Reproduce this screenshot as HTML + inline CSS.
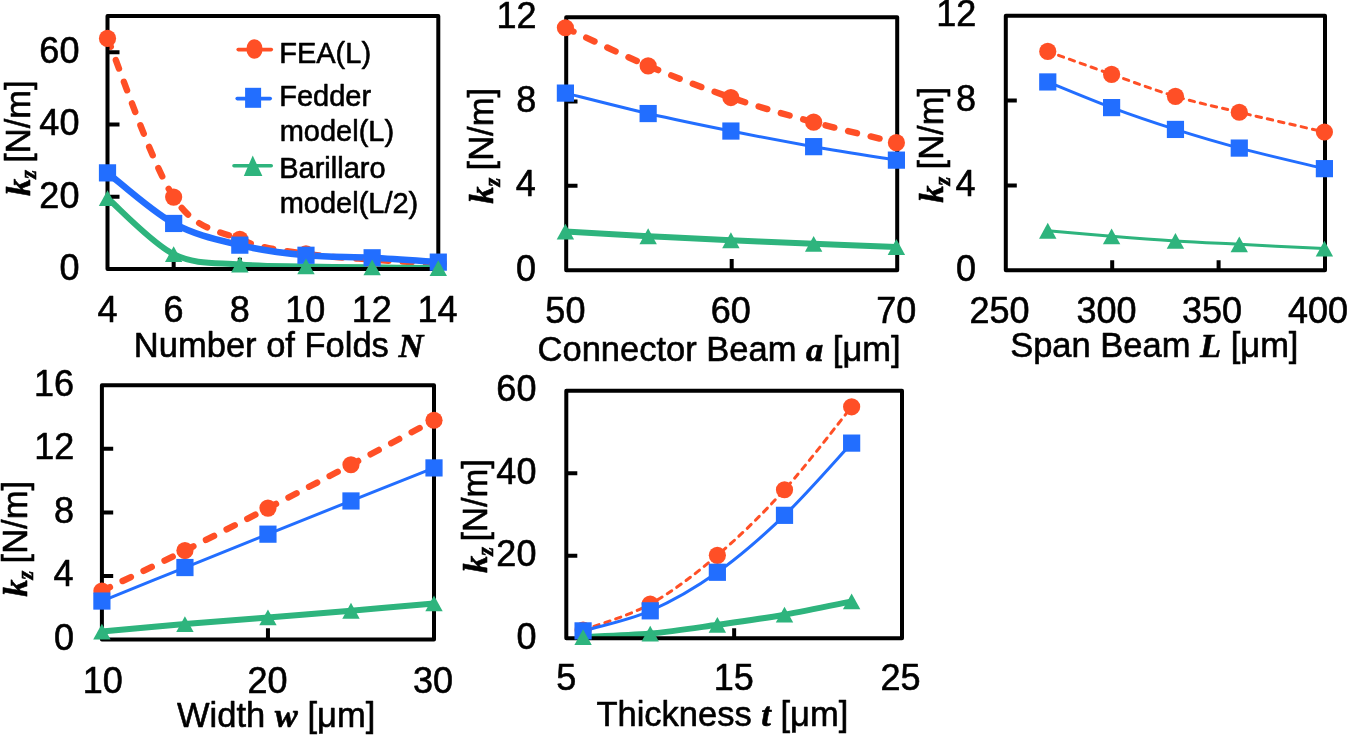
<!DOCTYPE html>
<html><head><meta charset="utf-8"><title>Figure</title>
<style>html,body{margin:0;padding:0;background:#fff;}body{width:1347px;height:736px;overflow:hidden;}svg{display:block;}</style>
</head><body>
<svg width="1347" height="736" viewBox="0 0 1347 736">
<style>text{stroke:#000;stroke-width:0.6px;stroke-linejoin:round;}</style>
<defs><filter id="soft" x="0" y="0" width="1347" height="736" filterUnits="userSpaceOnUse"><feGaussianBlur stdDeviation="0.5"/></filter></defs>
<rect width="1347" height="736" fill="#fff"/>
<g filter="url(#soft)">
<path d="M107.5,38.41 C118.53,64.85 151.61,163.58 173.66,197.08 C195.71,230.57 217.77,229.91 239.82,239.36 C261.87,248.82 283.93,250.45 305.98,253.82 C328.03,257.19 350.09,257.98 372.14,259.6 C394.19,261.23 427.27,262.92 438.3,263.58" stroke="#FF5026" stroke-width="6.4" fill="none" stroke-linecap="round" stroke-linejoin="round" stroke-dasharray="9.1 14.1"/>
<path d="M107.5,172.86 C118.53,181.29 151.61,211.41 173.66,223.46 C195.71,235.51 217.77,239.84 239.82,245.15 C261.87,250.45 283.93,253.16 305.98,255.27 C328.03,257.37 350.09,256.65 372.14,257.8 C394.19,258.94 427.27,261.41 438.3,262.13" stroke="#236EFF" stroke-width="6.5" fill="none" stroke-linecap="round" stroke-linejoin="round"/>
<path d="M107.5,198.16 C118.53,207.5 151.61,243.13 173.66,254.18 C195.71,265.24 217.77,262.43 239.82,264.48 C261.87,266.53 283.93,265.99 305.98,266.47 C328.03,266.95 350.09,267.1 372.14,267.37 C394.19,267.64 427.27,267.98 438.3,268.1" stroke="#2DB47D" stroke-width="6" fill="none" stroke-linecap="round" stroke-linejoin="round"/>
<path d="M107.5,196.71 H119.5 M107.5,124.43 H119.5 M107.5,52.14 H119.5 M173.66,269 V257.7 M239.82,269 V257.7 M305.98,269 V257.7 M372.14,269 V257.7" stroke="#000" stroke-width="4.0" fill="none"/>
<rect x="107.5" y="16" width="330.8" height="253" fill="none" stroke="#000" stroke-width="4.0" stroke-linejoin="round"/>
<circle cx="107.5" cy="38.41" r="8.6" fill="#FF5026"/>
<circle cx="173.66" cy="197.08" r="8.6" fill="#FF5026"/>
<circle cx="239.82" cy="239.36" r="8.6" fill="#FF5026"/>
<circle cx="305.98" cy="253.82" r="8.6" fill="#FF5026"/>
<circle cx="372.14" cy="259.6" r="8.6" fill="#FF5026"/>
<circle cx="438.3" cy="263.58" r="8.6" fill="#FF5026"/>
<rect x="98.9" y="164.26" width="17.2" height="17.2" fill="#236EFF"/>
<rect x="165.06" y="214.86" width="17.2" height="17.2" fill="#236EFF"/>
<rect x="231.22" y="236.55" width="17.2" height="17.2" fill="#236EFF"/>
<rect x="297.38" y="246.67" width="17.2" height="17.2" fill="#236EFF"/>
<rect x="363.54" y="249.2" width="17.2" height="17.2" fill="#236EFF"/>
<rect x="429.7" y="253.53" width="17.2" height="17.2" fill="#236EFF"/>
<path d="M107.5,190.26 L116.2,206.06 L98.8,206.06 Z" fill="#2DB47D"/>
<path d="M173.66,246.28 L182.36,262.08 L164.96,262.08 Z" fill="#2DB47D"/>
<path d="M239.82,256.58 L248.52,272.38 L231.12,272.38 Z" fill="#2DB47D"/>
<path d="M305.98,258.57 L314.68,274.37 L297.28,274.37 Z" fill="#2DB47D"/>
<path d="M372.14,259.47 L380.84,275.27 L363.44,275.27 Z" fill="#2DB47D"/>
<path d="M438.3,260.2 L447,276 L429.6,276 Z" fill="#2DB47D"/>
<text x="59.38" y="279.8" font-size="36" font-family="'Liberation Sans', Arial, sans-serif" text-anchor="start">0</text>
<text x="39.36" y="207.51" font-size="36" font-family="'Liberation Sans', Arial, sans-serif" text-anchor="start">20</text>
<text x="39.36" y="135.23" font-size="36" font-family="'Liberation Sans', Arial, sans-serif" text-anchor="start">40</text>
<text x="39.36" y="62.94" font-size="36" font-family="'Liberation Sans', Arial, sans-serif" text-anchor="start">60</text>
<text x="97.6" y="321.7" font-size="36" font-family="'Liberation Sans', Arial, sans-serif" text-anchor="start">4</text>
<text x="163.53" y="321.7" font-size="36" font-family="'Liberation Sans', Arial, sans-serif" text-anchor="start">6</text>
<text x="229.81" y="321.7" font-size="36" font-family="'Liberation Sans', Arial, sans-serif" text-anchor="start">8</text>
<text x="285.29" y="321.7" font-size="36" font-family="'Liberation Sans', Arial, sans-serif" text-anchor="start">10</text>
<text x="351.65" y="321.7" font-size="36" font-family="'Liberation Sans', Arial, sans-serif" text-anchor="start">12</text>
<text x="417.43" y="321.7" font-size="36" font-family="'Liberation Sans', Arial, sans-serif" text-anchor="start">14</text>
<text x="133.87" y="357.2" font-size="34.5" font-family="'Liberation Sans', Arial, sans-serif">Number of Folds <tspan font-family="'Liberation Serif', 'Times New Roman', serif" font-weight="bold" font-style="italic">N</tspan></text>
<text transform="translate(29.6,196.07) rotate(-90)" font-size="34.5" font-family="'Liberation Sans', Arial, sans-serif"><tspan font-family="'Liberation Serif', 'Times New Roman', serif" font-weight="bold" font-style="italic">k</tspan><tspan font-family="'Liberation Serif', 'Times New Roman', serif" font-style="italic" font-weight="bold" font-size="22.5" dy="6.8">z</tspan><tspan dx="-2.3" dy="-6.8"> [N/m]</tspan></text>
<path d="M238.2,49.6 H271.3" stroke="#FF5026" stroke-width="3.6" stroke-linecap="round"/>
<ellipse cx="254.5" cy="49" rx="8.1" ry="9.8" fill="#FF5026"/>
<path d="M237.2,98.6 H270.2" stroke="#236EFF" stroke-width="3.6" stroke-linecap="round"/>
<rect x="245.1" y="87.8" width="16" height="20" fill="#236EFF"/>
<path d="M234,165.7 H271.2" stroke="#2DB47D" stroke-width="3.6" stroke-linecap="round"/>
<path d="M252.7,155.6 L262.4,175.9 L243.8,175.9 Z" fill="#2DB47D"/>
<text x="279.22" y="62.6" font-size="29" font-family="'Liberation Sans', Arial, sans-serif" text-anchor="start">FEA(L)</text>
<text x="279.22" y="105.8" font-size="29" font-family="'Liberation Sans', Arial, sans-serif" text-anchor="start">Fedder</text>
<text x="279.67" y="140.6" font-size="29" font-family="'Liberation Sans', Arial, sans-serif" text-anchor="start">model(L)</text>
<text x="279.22" y="178.3" font-size="29" font-family="'Liberation Sans', Arial, sans-serif" text-anchor="start">Barillaro</text>
<text x="279.67" y="213.4" font-size="29" font-family="'Liberation Sans', Arial, sans-serif" text-anchor="start">model(L/2)</text>
<path d="M565.4,27.74 C579.19,34.1 620.57,54.27 648.15,65.9 C675.73,77.53 703.32,88.15 730.9,97.53 C758.48,106.91 786.07,114.68 813.65,122.19 C841.23,129.71 882.61,139.24 896.4,142.65" stroke="#FF5026" stroke-width="6.4" fill="none" stroke-linecap="round" stroke-linejoin="round" stroke-dasharray="9.1 14.1"/>
<path d="M565.4,93.1 C579.19,96.51 620.57,107.23 648.15,113.55 C675.73,119.88 703.32,125.53 730.9,131.05 C758.48,136.57 786.07,141.8 813.65,146.65 C841.23,151.5 882.61,157.9 896.4,160.14" stroke="#236EFF" stroke-width="3" fill="none" stroke-linecap="round" stroke-linejoin="round"/>
<path d="M565.4,231.62 C579.19,232.39 620.57,234.82 648.15,236.26 C675.73,237.7 703.32,239 730.9,240.26 C758.48,241.53 786.07,242.72 813.65,243.85 C841.23,244.97 882.61,246.48 896.4,247.01" stroke="#2DB47D" stroke-width="6" fill="none" stroke-linecap="round" stroke-linejoin="round"/>
<path d="M566.2,185.87 H577.5 M566.2,101.53 H577.5 M731.7,270.2 V258.9" stroke="#000" stroke-width="4.0" fill="none"/>
<rect x="566.2" y="17.2" width="331" height="253" fill="none" stroke="#000" stroke-width="4.0" stroke-linejoin="round"/>
<circle cx="565.4" cy="27.74" r="8.6" fill="#FF5026"/>
<circle cx="648.15" cy="65.9" r="8.6" fill="#FF5026"/>
<circle cx="730.9" cy="97.53" r="8.6" fill="#FF5026"/>
<circle cx="813.65" cy="122.19" r="8.6" fill="#FF5026"/>
<circle cx="896.4" cy="142.65" r="8.6" fill="#FF5026"/>
<rect x="556.8" y="84.5" width="17.2" height="17.2" fill="#236EFF"/>
<rect x="639.55" y="104.95" width="17.2" height="17.2" fill="#236EFF"/>
<rect x="722.3" y="122.45" width="17.2" height="17.2" fill="#236EFF"/>
<rect x="805.05" y="138.05" width="17.2" height="17.2" fill="#236EFF"/>
<rect x="887.8" y="151.54" width="17.2" height="17.2" fill="#236EFF"/>
<path d="M565.4,223.72 L574.1,239.52 L556.7,239.52 Z" fill="#2DB47D"/>
<path d="M648.15,228.36 L656.85,244.16 L639.45,244.16 Z" fill="#2DB47D"/>
<path d="M730.9,232.36 L739.6,248.16 L722.2,248.16 Z" fill="#2DB47D"/>
<path d="M813.65,235.95 L822.35,251.75 L804.95,251.75 Z" fill="#2DB47D"/>
<path d="M896.4,239.11 L905.1,254.91 L887.7,254.91 Z" fill="#2DB47D"/>
<text x="516.08" y="280.8" font-size="36" font-family="'Liberation Sans', Arial, sans-serif" text-anchor="start">0</text>
<text x="515.73" y="196.47" font-size="36" font-family="'Liberation Sans', Arial, sans-serif" text-anchor="start">4</text>
<text x="516.24" y="112.13" font-size="36" font-family="'Liberation Sans', Arial, sans-serif" text-anchor="start">8</text>
<text x="496.47" y="27.8" font-size="36" font-family="'Liberation Sans', Arial, sans-serif" text-anchor="start">12</text>
<text x="545.36" y="323.1" font-size="36" font-family="'Liberation Sans', Arial, sans-serif" text-anchor="start">50</text>
<text x="710.67" y="323.1" font-size="36" font-family="'Liberation Sans', Arial, sans-serif" text-anchor="start">60</text>
<text x="876.16" y="323.1" font-size="36" font-family="'Liberation Sans', Arial, sans-serif" text-anchor="start">70</text>
<text x="537.55" y="361" font-size="34.5" font-family="'Liberation Sans', Arial, sans-serif">Connector Beam <tspan font-family="'Liberation Serif', 'Times New Roman', serif" font-weight="bold" font-style="italic">a</tspan> [μm]</text>
<text transform="translate(492.8,203.67) rotate(-90)" font-size="34.5" font-family="'Liberation Sans', Arial, sans-serif"><tspan font-family="'Liberation Serif', 'Times New Roman', serif" font-weight="bold" font-style="italic">k</tspan><tspan font-family="'Liberation Serif', 'Times New Roman', serif" font-style="italic" font-weight="bold" font-size="22.5" dy="6.8">z</tspan><tspan dx="-2.3" dy="-6.8"> [N/m]</tspan></text>
<path d="M1047.76,51.42 C1058.4,55.23 1090.32,66.82 1111.6,74.31 C1132.88,81.8 1154.16,90.04 1175.44,96.36 C1196.72,102.68 1214.45,106.32 1239.28,112.26 C1264.11,118.2 1310.21,128.69 1324.4,131.98" stroke="#FF5026" stroke-width="3" fill="none" stroke-linecap="round" stroke-linejoin="round" stroke-dasharray="5.5 6.0"/>
<path d="M1047.76,81.94 C1058.4,86.22 1090.32,99.68 1111.6,107.6 C1132.88,115.51 1154.16,122.68 1175.44,129.43 C1196.72,136.18 1214.45,141.55 1239.28,148.09 C1264.11,154.62 1310.21,165.22 1324.4,168.65" stroke="#236EFF" stroke-width="3" fill="none" stroke-linecap="round" stroke-linejoin="round"/>
<path d="M1047.76,230.77 C1058.4,231.69 1090.32,234.58 1111.6,236.28 C1132.88,237.98 1154.16,239.6 1175.44,240.94 C1196.72,242.29 1214.45,243.06 1239.28,244.34 C1264.11,245.61 1310.21,247.87 1324.4,248.58" stroke="#2DB47D" stroke-width="3" fill="none" stroke-linecap="round" stroke-linejoin="round"/>
<path d="M1005.8,185.4 H1016.8 M1005.8,100.6 H1016.8 M1112.2,270.2 V260.3 M1218.6,270.2 V260.3" stroke="#000" stroke-width="4.0" fill="none"/>
<rect x="1005.8" y="15.8" width="319.2" height="254.4" fill="none" stroke="#000" stroke-width="4.0" stroke-linejoin="round"/>
<circle cx="1047.76" cy="51.42" r="8.6" fill="#FF5026"/>
<circle cx="1111.6" cy="74.31" r="8.6" fill="#FF5026"/>
<circle cx="1175.44" cy="96.36" r="8.6" fill="#FF5026"/>
<circle cx="1239.28" cy="112.26" r="8.6" fill="#FF5026"/>
<circle cx="1324.4" cy="131.98" r="8.6" fill="#FF5026"/>
<rect x="1039.16" y="73.34" width="17.2" height="17.2" fill="#236EFF"/>
<rect x="1103" y="99" width="17.2" height="17.2" fill="#236EFF"/>
<rect x="1166.84" y="120.83" width="17.2" height="17.2" fill="#236EFF"/>
<rect x="1230.68" y="139.49" width="17.2" height="17.2" fill="#236EFF"/>
<rect x="1315.8" y="160.05" width="17.2" height="17.2" fill="#236EFF"/>
<path d="M1047.76,222.87 L1056.46,238.67 L1039.06,238.67 Z" fill="#2DB47D"/>
<path d="M1111.6,228.38 L1120.3,244.18 L1102.9,244.18 Z" fill="#2DB47D"/>
<path d="M1175.44,233.04 L1184.14,248.84 L1166.74,248.84 Z" fill="#2DB47D"/>
<path d="M1239.28,236.44 L1247.98,252.24 L1230.58,252.24 Z" fill="#2DB47D"/>
<path d="M1324.4,240.68 L1333.1,256.48 L1315.7,256.48 Z" fill="#2DB47D"/>
<text x="955.88" y="280.7" font-size="36" font-family="'Liberation Sans', Arial, sans-serif" text-anchor="start">0</text>
<text x="955.53" y="195.9" font-size="36" font-family="'Liberation Sans', Arial, sans-serif" text-anchor="start">4</text>
<text x="956.04" y="111.1" font-size="36" font-family="'Liberation Sans', Arial, sans-serif" text-anchor="start">8</text>
<text x="936.27" y="26.3" font-size="36" font-family="'Liberation Sans', Arial, sans-serif" text-anchor="start">12</text>
<text x="969.57" y="323.1" font-size="36" font-family="'Liberation Sans', Arial, sans-serif" text-anchor="start">250</text>
<text x="1076.49" y="323.1" font-size="36" font-family="'Liberation Sans', Arial, sans-serif" text-anchor="start">300</text>
<text x="1182.09" y="323.1" font-size="36" font-family="'Liberation Sans', Arial, sans-serif" text-anchor="start">350</text>
<text x="1287.96" y="323.1" font-size="36" font-family="'Liberation Sans', Arial, sans-serif" text-anchor="start">400</text>
<text x="1010.13" y="356.9" font-size="34.5" font-family="'Liberation Sans', Arial, sans-serif">Span Beam <tspan font-family="'Liberation Serif', 'Times New Roman', serif" font-weight="bold" font-style="italic">L</tspan> [μm]</text>
<text transform="translate(943.2,202.67) rotate(-90)" font-size="34.5" font-family="'Liberation Sans', Arial, sans-serif"><tspan font-family="'Liberation Serif', 'Times New Roman', serif" font-weight="bold" font-style="italic">k</tspan><tspan font-family="'Liberation Serif', 'Times New Roman', serif" font-style="italic" font-weight="bold" font-size="22.5" dy="6.8">z</tspan><tspan dx="-2.3" dy="-6.8"> [N/m]</tspan></text>
<path d="M101.9,591.04 C115.74,584.29 157.25,564.35 184.93,550.53 C212.6,536.71 240.28,522.41 267.95,508.11 C295.63,493.81 323.3,479.38 350.98,464.74 C378.65,450.09 420.16,427.67 434,420.25" stroke="#FF5026" stroke-width="6.4" fill="none" stroke-linecap="round" stroke-linejoin="round" stroke-dasharray="9.1 14.1"/>
<path d="M101.9,601.05 C115.74,595.47 157.25,578.68 184.93,567.53 C212.6,556.38 240.28,545.26 267.95,534.17 C295.63,523.07 323.3,512 350.98,500.96 C378.65,489.92 420.16,473.42 434,467.91" stroke="#236EFF" stroke-width="3" fill="none" stroke-linecap="round" stroke-linejoin="round"/>
<path d="M101.9,631.56 C115.74,630.31 157.25,626.45 184.93,624.09 C212.6,621.73 240.28,619.64 267.95,617.42 C295.63,615.19 323.3,613.07 350.98,610.74 C378.65,608.41 420.16,604.65 434,603.44" stroke="#2DB47D" stroke-width="6" fill="none" stroke-linecap="round" stroke-linejoin="round"/>
<path d="M101.9,575.95 H113.2 M101.9,512.4 H113.2 M101.9,448.85 H113.2 M267.95,639.5 V628.2" stroke="#000" stroke-width="4.0" fill="none"/>
<rect x="101.9" y="385.3" width="332.1" height="254.2" fill="none" stroke="#000" stroke-width="4.0" stroke-linejoin="round"/>
<circle cx="101.9" cy="591.04" r="8.6" fill="#FF5026"/>
<circle cx="184.93" cy="550.53" r="8.6" fill="#FF5026"/>
<circle cx="267.95" cy="508.11" r="8.6" fill="#FF5026"/>
<circle cx="350.98" cy="464.74" r="8.6" fill="#FF5026"/>
<circle cx="434" cy="420.25" r="8.6" fill="#FF5026"/>
<rect x="93.3" y="592.45" width="17.2" height="17.2" fill="#236EFF"/>
<rect x="176.33" y="558.93" width="17.2" height="17.2" fill="#236EFF"/>
<rect x="259.35" y="525.57" width="17.2" height="17.2" fill="#236EFF"/>
<rect x="342.38" y="492.36" width="17.2" height="17.2" fill="#236EFF"/>
<rect x="425.4" y="459.31" width="17.2" height="17.2" fill="#236EFF"/>
<path d="M101.9,623.66 L110.6,639.46 L93.2,639.46 Z" fill="#2DB47D"/>
<path d="M184.93,616.19 L193.62,631.99 L176.23,631.99 Z" fill="#2DB47D"/>
<path d="M267.95,609.52 L276.65,625.32 L259.25,625.32 Z" fill="#2DB47D"/>
<path d="M350.98,602.84 L359.68,618.64 L342.28,618.64 Z" fill="#2DB47D"/>
<path d="M434,595.54 L442.7,611.34 L425.3,611.34 Z" fill="#2DB47D"/>
<text x="53.88" y="649.8" font-size="36" font-family="'Liberation Sans', Arial, sans-serif" text-anchor="start">0</text>
<text x="53.53" y="586.25" font-size="36" font-family="'Liberation Sans', Arial, sans-serif" text-anchor="start">4</text>
<text x="54.04" y="522.7" font-size="36" font-family="'Liberation Sans', Arial, sans-serif" text-anchor="start">8</text>
<text x="34.27" y="459.15" font-size="36" font-family="'Liberation Sans', Arial, sans-serif" text-anchor="start">12</text>
<text x="34.04" y="395.6" font-size="36" font-family="'Liberation Sans', Arial, sans-serif" text-anchor="start">16</text>
<text x="82.71" y="692.6" font-size="36" font-family="'Liberation Sans', Arial, sans-serif" text-anchor="start">10</text>
<text x="247.58" y="692.6" font-size="36" font-family="'Liberation Sans', Arial, sans-serif" text-anchor="start">20</text>
<text x="412.9" y="692.6" font-size="36" font-family="'Liberation Sans', Arial, sans-serif" text-anchor="start">30</text>
<text x="177.05" y="727.2" font-size="34.5" font-family="'Liberation Sans', Arial, sans-serif">Width <tspan font-family="'Liberation Serif', 'Times New Roman', serif" font-weight="bold" font-style="italic">w</tspan> [μm]</text>
<text transform="translate(26.6,596.67) rotate(-90)" font-size="34.5" font-family="'Liberation Sans', Arial, sans-serif"><tspan font-family="'Liberation Serif', 'Times New Roman', serif" font-weight="bold" font-style="italic">k</tspan><tspan font-family="'Liberation Serif', 'Times New Roman', serif" font-style="italic" font-weight="bold" font-size="22.5" dy="6.8">z</tspan><tspan dx="-2.3" dy="-6.8"> [N/m]</tspan></text>
<path d="M583.08,630.05 C594.27,625.71 627.84,616.5 650.22,604.05 C672.6,591.6 694.99,574.41 717.37,555.35 C739.75,536.3 762.12,514.5 784.5,489.74 C806.88,464.98 840.45,420.62 851.64,406.79" stroke="#FF5026" stroke-width="3" fill="none" stroke-linecap="round" stroke-linejoin="round" stroke-dasharray="5.5 6.0"/>
<path d="M583.08,630.87 C594.27,627.53 627.84,620.58 650.22,610.82 C672.6,601.05 694.99,588.19 717.37,572.27 C739.75,556.36 762.12,536.85 784.5,515.33 C806.88,493.8 840.45,455.14 851.64,443.11" stroke="#236EFF" stroke-width="3" fill="none" stroke-linecap="round" stroke-linejoin="round"/>
<path d="M583.08,637.06 C594.27,636.48 627.84,635.6 650.22,633.55 C672.6,631.51 694.99,627.95 717.37,624.81 C739.75,621.66 762.12,618.6 784.5,614.7 C806.88,610.8 840.45,603.62 851.64,601.41" stroke="#2DB47D" stroke-width="6" fill="none" stroke-linecap="round" stroke-linejoin="round"/>
<path d="M566.3,555.77 H577.3 M566.3,473.23 H577.3 M734.15,638.3 V628.3" stroke="#000" stroke-width="4.0" fill="none"/>
<rect x="566.3" y="390.7" width="335.7" height="247.6" fill="none" stroke="#000" stroke-width="4.0" stroke-linejoin="round"/>
<circle cx="583.08" cy="630.05" r="8.6" fill="#FF5026"/>
<circle cx="650.22" cy="604.05" r="8.6" fill="#FF5026"/>
<circle cx="717.37" cy="555.35" r="8.6" fill="#FF5026"/>
<circle cx="784.5" cy="489.74" r="8.6" fill="#FF5026"/>
<circle cx="851.64" cy="406.79" r="8.6" fill="#FF5026"/>
<rect x="574.48" y="622.27" width="17.2" height="17.2" fill="#236EFF"/>
<rect x="641.62" y="602.22" width="17.2" height="17.2" fill="#236EFF"/>
<rect x="708.76" y="563.67" width="17.2" height="17.2" fill="#236EFF"/>
<rect x="775.9" y="506.73" width="17.2" height="17.2" fill="#236EFF"/>
<rect x="843.04" y="434.51" width="17.2" height="17.2" fill="#236EFF"/>
<path d="M583.08,629.16 L591.78,644.96 L574.38,644.96 Z" fill="#2DB47D"/>
<path d="M650.22,625.65 L658.92,641.45 L641.52,641.45 Z" fill="#2DB47D"/>
<path d="M717.37,616.91 L726.07,632.71 L708.66,632.71 Z" fill="#2DB47D"/>
<path d="M784.5,606.8 L793.21,622.6 L775.8,622.6 Z" fill="#2DB47D"/>
<path d="M851.64,593.51 L860.35,609.31 L842.94,609.31 Z" fill="#2DB47D"/>
<text x="516.38" y="648.8" font-size="36" font-family="'Liberation Sans', Arial, sans-serif" text-anchor="start">0</text>
<text x="496.36" y="566.27" font-size="36" font-family="'Liberation Sans', Arial, sans-serif" text-anchor="start">20</text>
<text x="496.36" y="483.73" font-size="36" font-family="'Liberation Sans', Arial, sans-serif" text-anchor="start">40</text>
<text x="496.36" y="401.2" font-size="36" font-family="'Liberation Sans', Arial, sans-serif" text-anchor="start">60</text>
<text x="556.22" y="690.2" font-size="36" font-family="'Liberation Sans', Arial, sans-serif" text-anchor="start">5</text>
<text x="713.66" y="690.2" font-size="36" font-family="'Liberation Sans', Arial, sans-serif" text-anchor="start">15</text>
<text x="880.43" y="690.2" font-size="36" font-family="'Liberation Sans', Arial, sans-serif" text-anchor="start">25</text>
<text x="596.43" y="725.6" font-size="34.5" font-family="'Liberation Sans', Arial, sans-serif">Thickness <tspan font-family="'Liberation Serif', 'Times New Roman', serif" font-weight="bold" font-style="italic">t</tspan> [μm]</text>
<text transform="translate(486.6,573.07) rotate(-90)" font-size="34.5" font-family="'Liberation Sans', Arial, sans-serif"><tspan font-family="'Liberation Serif', 'Times New Roman', serif" font-weight="bold" font-style="italic">k</tspan><tspan font-family="'Liberation Serif', 'Times New Roman', serif" font-style="italic" font-weight="bold" font-size="22.5" dy="6.8">z</tspan><tspan dx="-4.1" dy="-6.8"> [N/m]</tspan></text>
</g>
</svg>
</body></html>
